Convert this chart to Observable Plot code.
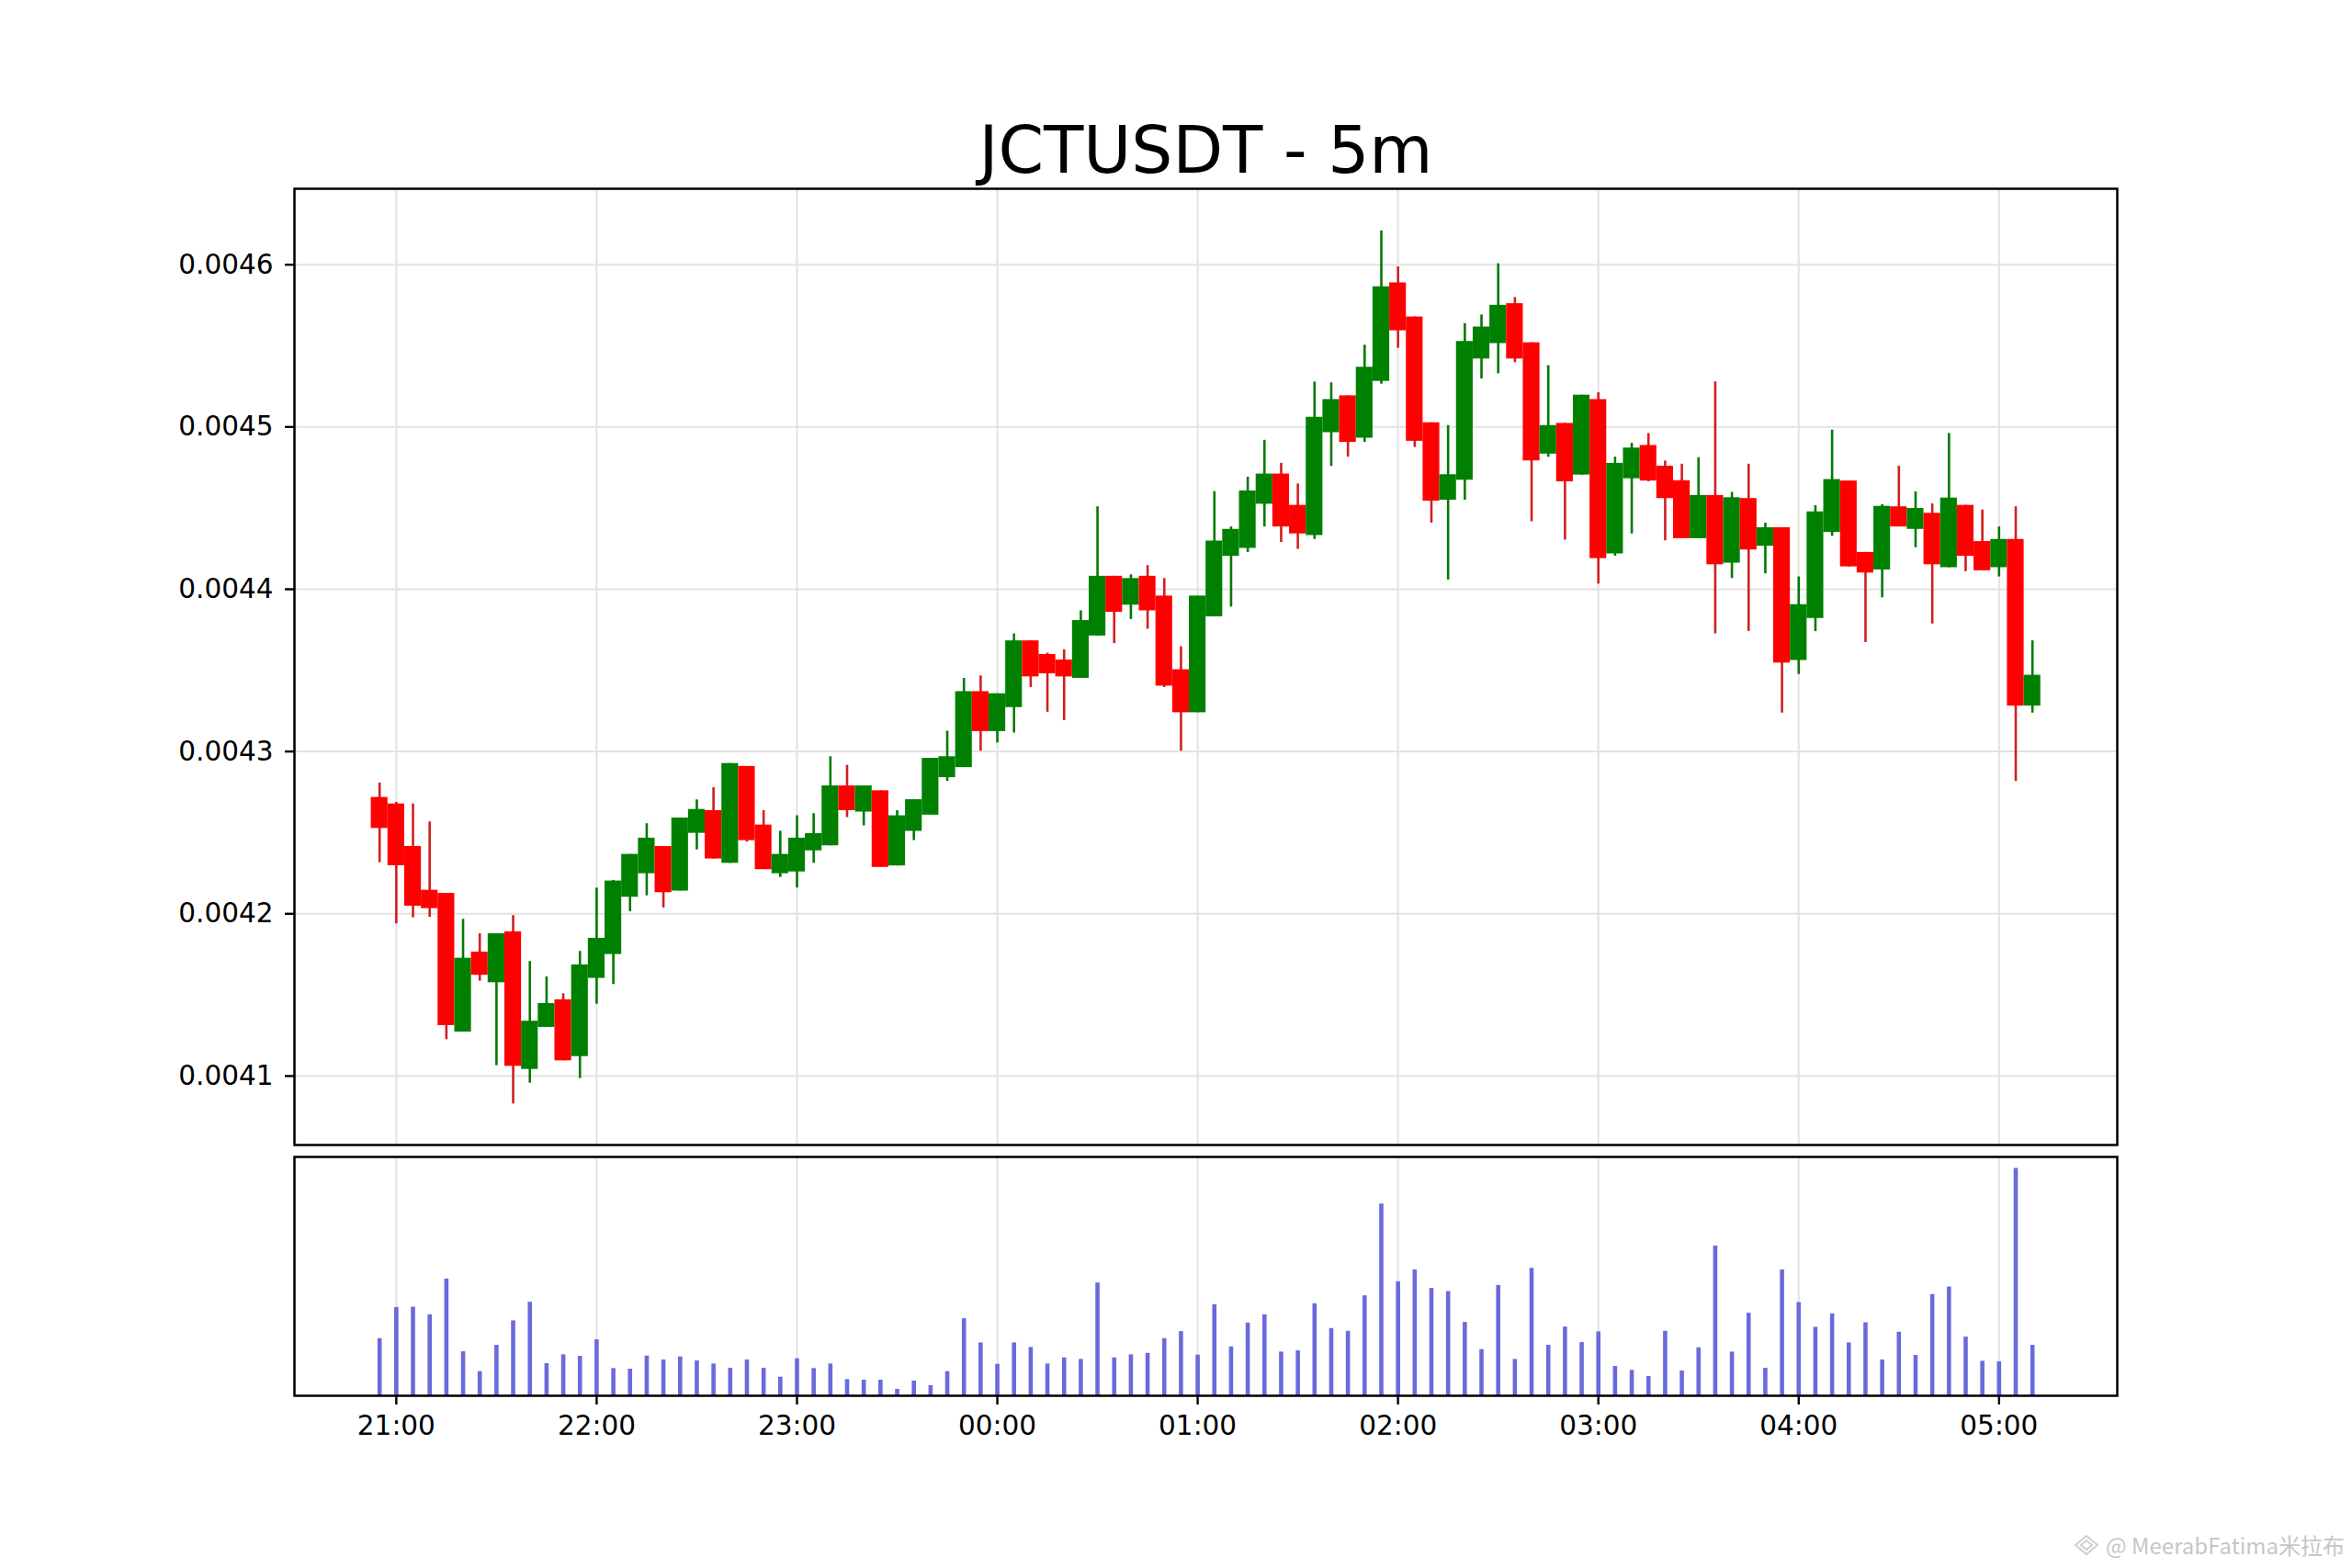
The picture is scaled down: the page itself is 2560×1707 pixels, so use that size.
<!DOCTYPE html>
<html>
<head>
<meta charset="utf-8">
<script src="https://cdn.jsdelivr.net/npm/d3@7"></script>
<script src="https://cdn.jsdelivr.net/npm/@observablehq/plot@0.6"></script>
<style>
  html, body { margin: 0; padding: 0; background: #ffffff; }
  #page { position: relative; width: 2560px; height: 1707px; background: #ffffff; overflow: hidden; }
  #page svg.plotsvg { position: absolute; left: 0; }
  #wm { position: absolute; left: 2256px; top: 1664px; font-family: "Noto Sans CJK SC", "DejaVu Sans", sans-serif;
        font-size: 24px; color: #c6c6c6; white-space: nowrap; display: flex; align-items: center; gap: 6px; }
</style>
</head>
<body>
<div id="page"><div id="wm"><svg width="30" height="24" viewBox="0 0 30 24"><path d="M15 2 L27 12 L15 22 L3 12 Z M15 7 L21 12 L15 17 L9 12 Z" fill="none" stroke="#cfcfcf" stroke-width="2"/></svg><span>@ MeerabFatima米拉布</span></div></div>
<script>
// ---- data ----
const title = "JCTUSDT - 5m";
const times = [
  "20:55",
  "21:00","21:05","21:10","21:15","21:20","21:25","21:30","21:35","21:40","21:45","21:50","21:55",
  "22:00","22:05","22:10","22:15","22:20","22:25","22:30","22:35","22:40","22:45","22:50","22:55",
  "23:00","23:05","23:10","23:15","23:20","23:25","23:30","23:35","23:40","23:45","23:50","23:55",
  "00:00","00:05","00:10","00:15","00:20","00:25","00:30","00:35","00:40","00:45","00:50","00:55",
  "01:00","01:05","01:10","01:15","01:20","01:25","01:30","01:35","01:40","01:45","01:50","01:55",
  "02:00","02:05","02:10","02:15","02:20","02:25","02:30","02:35","02:40","02:45","02:50","02:55",
  "03:00","03:05","03:10","03:15","03:20","03:25","03:30","03:35","03:40","03:45","03:50","03:55",
  "04:00","04:05","04:10","04:15","04:20","04:25","04:30","04:35","04:40","04:45","04:50","04:55",
  "05:00","05:05","05:10"
];
const open = [
  0.0042717,0.0042677,0.0042415,0.0042145,0.0042126,0.0041271,0.0041764,0.0041575,0.0041889,0.0041041,
  0.0041300,0.0041470,0.0041120,0.0041602,0.0041749,0.0042102,0.0042247,0.0042415,0.0042140,0.0042496,
  0.0042636,0.0042311,0.0042908,0.0042547,0.0042247,0.0042258,0.0042388,0.0042419,0.0042788,0.0042627,
  0.0042758,0.0042295,0.0042508,0.0042608,0.0042839,0.0042901,0.0043369,0.0043123,0.0043271,0.0043682,
  0.0043598,0.0043564,0.0043451,0.0043712,0.0044080,0.0043902,0.0044080,0.0043958,0.0043504,0.0043239,
  0.0043830,0.0044203,0.0044252,0.0044524,0.0044710,0.0044517,0.0044331,0.0044965,0.0045192,0.0044931,
  0.0045281,0.0045888,0.0045678,0.0045026,0.0044549,0.0044672,0.0045419,0.0045514,0.0045760,0.0045519,
  0.0044833,0.0045022,0.0044704,0.0045169,0.0044218,0.0044681,0.0044886,0.0044758,0.0044669,0.0044312,
  0.0044578,0.0044161,0.0044559,0.0044265,0.0044379,0.0043561,0.0043820,0.0044350,0.0044667,0.0044227,
  0.0044119,0.0044508,0.0044369,0.0044468,0.0044133,0.0044517,0.0044294,0.0044133,0.0044307,0.0043280
];
const high = [
  0.0042806,0.0042687,0.0042677,0.0042566,0.0042126,0.0041966,0.0041877,0.0041877,0.0041989,0.0041706,
  0.0041611,0.0041507,0.0041768,0.0042158,0.0042206,0.0042366,0.0042555,0.0042415,0.0042590,0.0042702,
  0.0042777,0.0042926,0.0042908,0.0042636,0.0042509,0.0042604,0.0042617,0.0042968,0.0042915,0.0042788,
  0.0042758,0.0042636,0.0042703,0.0042958,0.0043125,0.0043451,0.0043466,0.0043356,0.0043725,0.0043682,
  0.0043606,0.0043627,0.0043867,0.0044508,0.0044080,0.0044089,0.0044146,0.0044066,0.0043646,0.0043958,
  0.0044602,0.0044384,0.0044691,0.0044918,0.0044776,0.0044649,0.0045277,0.0045272,0.0045192,0.0045504,
  0.0046208,0.0045987,0.0045678,0.0045026,0.0045009,0.0045637,0.0045690,0.0046006,0.0045798,0.0045519,
  0.0045378,0.0045022,0.0045196,0.0045211,0.0044814,0.0044899,0.0044960,0.0044790,0.0044771,0.0044811,
  0.0045278,0.0044597,0.0044771,0.0044407,0.0044379,0.0044076,0.0044515,0.0044981,0.0044667,0.0044227,
  0.0044521,0.0044758,0.0044600,0.0044526,0.0044960,0.0044517,0.0044489,0.0044384,0.0044508,0.0043682
];
const low = [
  0.0042315,0.0041938,0.0041975,0.0041979,0.0041224,0.0041271,0.0041585,0.0041064,0.0040828,0.0040956,
  0.0041300,0.0041094,0.0040985,0.0041443,0.0041564,0.0042013,0.0042111,0.0042036,0.0042140,0.0042394,
  0.0042338,0.0042311,0.0042442,0.0042272,0.0042224,0.0042159,0.0042311,0.0042419,0.0042593,0.0042542,
  0.0042286,0.0042295,0.0042451,0.0042608,0.0042816,0.0042901,0.0043002,0.0043053,0.0043114,0.0043394,
  0.0043242,0.0043191,0.0043451,0.0043712,0.0043665,0.0043814,0.0043754,0.0043394,0.0043002,0.0043239,
  0.0043830,0.0043890,0.0044227,0.0044384,0.0044288,0.0044246,0.0044307,0.0044757,0.0044814,0.0044905,
  0.0045264,0.0045485,0.0044874,0.0044407,0.0044057,0.0044549,0.0045296,0.0045328,0.0045396,0.0044416,
  0.0044814,0.0044303,0.0044704,0.0044032,0.0044204,0.0044341,0.0044663,0.0044299,0.0044312,0.0044312,
  0.0043725,0.0044066,0.0043740,0.0044095,0.0043237,0.0043475,0.0043739,0.0044326,0.0044138,0.0043672,
  0.0043947,0.0044384,0.0044256,0.0043786,0.0044133,0.0044108,0.0044114,0.0044076,0.0042816,0.0043237
];
const close = [
  0.0042526,0.0042296,0.0042047,0.0042032,0.0041311,0.0041726,0.0041621,0.0041877,0.0041060,0.0041338,
  0.0041447,0.0041094,0.0041685,0.0041849,0.0042202,0.0042366,0.0042466,0.0042130,0.0042590,0.0042643,
  0.0042338,0.0042926,0.0042451,0.0042272,0.0042366,0.0042466,0.0042494,0.0042788,0.0042636,0.0042788,
  0.0042286,0.0042604,0.0042703,0.0042958,0.0042968,0.0043369,0.0043123,0.0043356,0.0043682,0.0043460,
  0.0043479,0.0043460,0.0043807,0.0044080,0.0043858,0.0044066,0.0043867,0.0043403,0.0043239,0.0043958,
  0.0044297,0.0044369,0.0044606,0.0044710,0.0044384,0.0044341,0.0045060,0.0045169,0.0044905,0.0045368,
  0.0045864,0.0045593,0.0044912,0.0044543,0.0044706,0.0045527,0.0045616,0.0045750,0.0045419,0.0044791,
  0.0045009,0.0044662,0.0045196,0.0044189,0.0044776,0.0044870,0.0044667,0.0044559,0.0044312,0.0044578,
  0.0044151,0.0044564,0.0044242,0.0044379,0.0043545,0.0043905,0.0044477,0.0044676,0.0044138,0.0044100,
  0.0044511,0.0044384,0.0044498,0.0044151,0.0044562,0.0044203,0.0044114,0.0044307,0.0043280,0.0043470
];
const volume = [
  187,289,290,265,382,144,79,165,245,306,
  105,134,129,183,89,87,130,117,127,114,
  104,90,117,90,61,121,89,104,53,51,
  51,21,48,33,79,252,173,103,173,158,
  104,124,119,369,124,134,139,187,210,133,
  298,160,238,265,143,147,301,220,211,327,
  627,373,412,351,341,240,151,361,119,417,
  165,225,174,209,96,83,63,211,81,157,
  490,143,270,90,412,305,224,268,173,239,
  117,208,132,331,356,192,113,111,744,165
];
const priceTicks = [0.0041, 0.0042, 0.0043, 0.0044, 0.0045, 0.0046];
const timeTicks = ["21:00","22:00","23:00","00:00","01:00","02:00","03:00","04:00","05:00"];

// ---- helpers ----
const MIN = 60 * 1000;
function toDate(hm) {
  const [h, m] = hm.split(":").map(Number);
  const day = h >= 12 ? 1 : 2;
  return new Date(Date.UTC(2024, 0, day, h, m));
}
const candles = times.map((s, i) => ({
  t: toDate(s), open: open[i], high: high[i], low: low[i], close: close[i], vol: volume[i]
}));
const tickDates = timeTicks.map(toDate);
const t0 = toDate(times[0]), t1 = toDate(times[times.length - 1]);
const xDomain = [new Date(+t0 - 25.5 * MIN), new Date(+t1 + 25.4 * MIN)];
const up = d => d.close >= d.open;

const FONT = "DejaVu Sans";
const FS = 29.5;
const gridStyle = {stroke: "#e2e2e2", strokeWidth: 2, strokeOpacity: 1};

const page = document.getElementById("page");

// ---- main candlestick panel ----
const main = Plot.plot({
  width: 2560, height: 1250,
  marginLeft: 320, marginRight: 256, marginTop: 205, marginBottom: 4,
  style: {fontFamily: FONT, fontSize: FS + "px", background: "transparent", color: "black"},
  x: {type: "utc", domain: xDomain, axis: null},
  y: {domain: [0.0040575, 0.0046468], axis: null},
  color: {type: "identity"},
  marks: [
    Plot.gridX(tickDates, gridStyle),
    Plot.gridY(priceTicks, gridStyle),
    Plot.ruleX(candles, {x: "t", y1: "low", y2: "high",
      stroke: d => up(d) ? "#007a00" : "#d01f1f", strokeWidth: 2.6}),
    Plot.rect(candles, {
      x1: d => new Date(+d.t - 2.5 * MIN), x2: d => new Date(+d.t + 2.5 * MIN),
      y1: "open", y2: "close",
      fill: d => up(d) ? "#008000" : "#ff0000"}),
    Plot.axisY(priceTicks, {anchor: "left", tickSize: 10, tickPadding: 13, strokeWidth: 2.4,
      tickFormat: d => d.toFixed(4), fontSize: FS, label: null}),
    Plot.frame({stroke: "black", strokeWidth: 2.5}),
    Plot.text([title], {frameAnchor: "top", lineAnchor: "bottom", dy: -18,
      fontSize: 71, fill: "black", fontFamily: FONT})
  ]
});
main.classList.add("plotsvg");
main.style.top = "0px";
page.appendChild(main);

// ---- volume panel ----
const vol = Plot.plot({
  width: 2560, height: 457,
  marginLeft: 320, marginRight: 256, marginTop: 9, marginBottom: 188,
  style: {fontFamily: FONT, fontSize: FS + "px", background: "transparent", color: "black"},
  x: {type: "utc", domain: xDomain, axis: null},
  y: {domain: [0, d3.max(volume) * 1.05], axis: null},
  marks: [
    Plot.gridX(tickDates, gridStyle),
    Plot.ruleX(candles, {x: "t", y1: 0, y2: "vol", stroke: "#6a6adc", strokeWidth: 4.6}),
    Plot.axisX(tickDates, {anchor: "bottom", tickSize: 10, tickPadding: 12, strokeWidth: 2.4,
      tickFormat: d3.utcFormat("%H:%M"), fontSize: FS, label: null}),
    Plot.frame({stroke: "black", strokeWidth: 2.5})
  ]
});
vol.classList.add("plotsvg");
vol.style.top = "1250px";
page.appendChild(vol);
</script>
</body>
</html>
